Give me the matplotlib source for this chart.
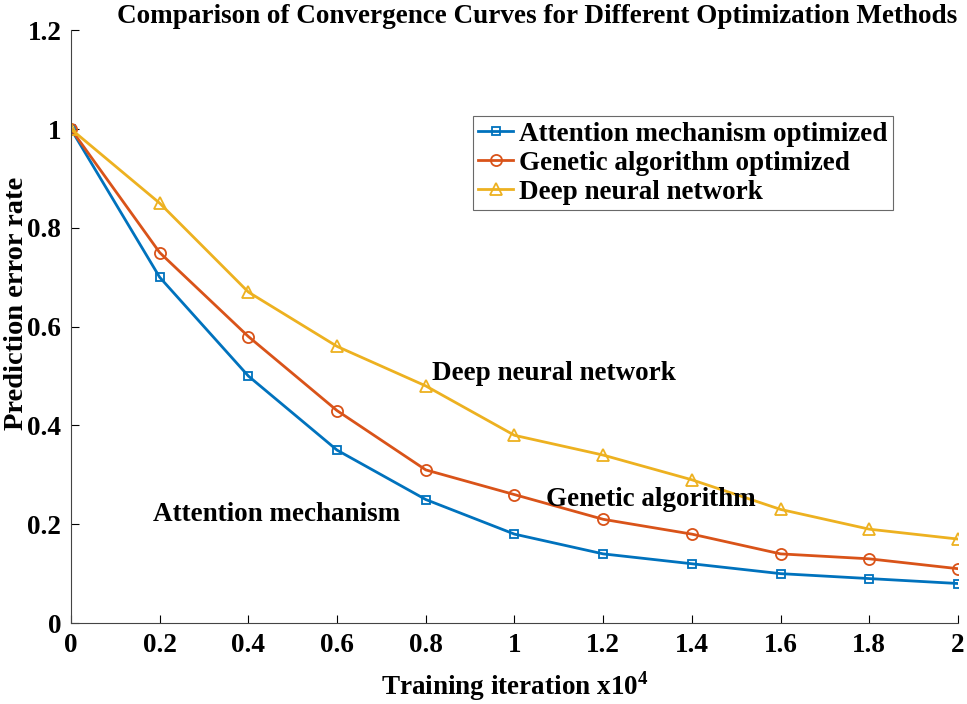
import numpy as np
import matplotlib.pyplot as plt

# iterations (x10^4)
iters = [0, 0.2, 0.4, 0.6, 0.8, 1.0, 1.2, 1.4, 1.6, 1.8, 2.0]
attention = [1.0, 0.70, 0.50, 0.35, 0.25, 0.18, 0.14, 0.12, 0.10, 0.09, 0.08]
genetic = [1.0, 0.75, 0.58, 0.43, 0.31, 0.26, 0.21, 0.18, 0.14, 0.13, 0.11]
dnn = [1.0, 0.85, 0.67, 0.56, 0.48, 0.38, 0.34, 0.29, 0.23, 0.19, 0.17]

labels = ['Attention mechanism optimized', 'Genetic algorithm optimized', 'Deep neural network']
xticks = [0, 0.2, 0.4, 0.6, 0.8, 1, 1.2, 1.4, 1.6, 1.8, 2]
xtick_labels = ['0', '0.2', '0.4', '0.6', '0.8', '1', '1.2', '1.4', '1.6', '1.8', '2']
yticks = [0, 0.2, 0.4, 0.6, 0.8, 1.0, 1.2]
ytick_labels = ['0', '0.2', '0.4', '0.6', '0.8', '1', '1.2']

plt.rcParams['font.family'] = ['Liberation Serif']
plt.rcParams['font.weight'] = 'bold'
plt.rcParams['mathtext.fontset'] = 'custom'
plt.rcParams['mathtext.rm'] = 'Liberation Serif'
plt.rcParams['mathtext.bf'] = 'Liberation Serif:bold'

fs = 19.5

fig = plt.figure(figsize=(9.67, 7.04), dpi=100)
ax = fig.add_axes([0.0734, 0.115, 0.9173, 0.842])

ax.plot(iters, attention, color='#0072BD', lw=2, marker='s', ms=6, mfc='none', mew=1.3, label=labels[0])
ax.plot(iters, genetic, color='#D95319', lw=2, marker='o', ms=8, mfc='none', mew=1.3, label=labels[1])
ax.plot(iters, dnn, color='#EDB120', lw=2, marker='^', ms=8, mfc='none', mew=1.3, label=labels[2])

ax.set_xlim(0, 2)
ax.set_ylim(0, 1.2)
ax.set_xticks(xticks)
ax.set_xticklabels(xtick_labels, fontsize=fs, fontweight='bold')
ax.set_yticks(yticks)
ax.set_yticklabels(ytick_labels, fontsize=fs, fontweight='bold')
ax.tick_params(direction='in', length=6, width=0.8, pad=7)
ax.spines['top'].set_visible(False)
ax.spines['right'].set_visible(False)
for s in ['left', 'bottom']:
    ax.spines[s].set_color('#444444')

ax.set_xlabel(r'Training iteration x10$^{4}$', fontsize=fs, fontweight='bold', labelpad=8)
ax.set_ylabel('Prediction error rate', fontsize=20.5, fontweight='bold')
ax.yaxis.set_label_coords(-0.047, 0.54)
ax.set_title('Comparison of Convergence Curves for Different Optimization Methods',
             fontsize=fs, fontweight='bold', pad=5, x=0.526)

ax.text(0.815, 0.505, 'Deep neural network', fontsize=fs, fontweight='bold', va='center')
ax.text(1.07, 0.25, 'Genetic algorithm', fontsize=fs, fontweight='bold', va='center')
ax.text(0.185, 0.22, 'Attention mechanism', fontsize=fs, fontweight='bold', va='center')

leg = ax.legend(loc='upper left', bbox_to_anchor=(0.453, 0.855), fontsize=fs, frameon=True,
                fancybox=False, edgecolor='#444444', handlelength=1.3, handletextpad=0.2,
                borderpad=0.2, labelspacing=0.15, borderaxespad=0)
leg.get_frame().set_linewidth(0.8)

fig.savefig('out.png', dpi=100)
